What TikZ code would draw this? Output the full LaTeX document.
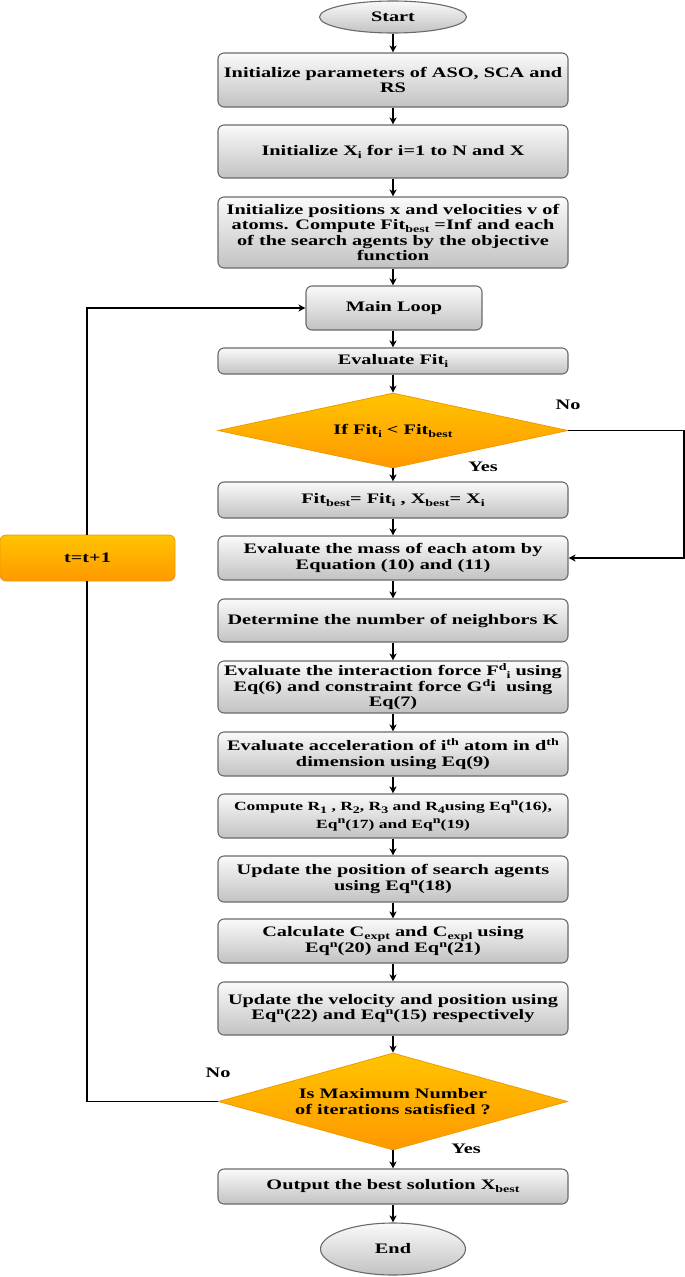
\documentclass[tikz,border=0pt]{standalone}
\usepackage{fontspec}
\setmainfont{Liberation Serif}[FakeStretch=1.4]
\usetikzlibrary{shapes.geometric,arrows.meta}
\definecolor{gtop}{HTML}{FAFAFA}
\definecolor{gbot}{HTML}{C2C2C2}
\definecolor{gline}{HTML}{6A6A6A}
\definecolor{otop}{HTML}{FFC400}
\definecolor{obot}{HTML}{FF9800}
\definecolor{oline}{HTML}{EE9A00}
\newcommand\subtx[1]{\raisebox{-3pt}{\fontsize{10}{10}\selectfont #1}}
\newcommand\suptx[1]{\raisebox{5pt}{\fontsize{10}{10}\selectfont #1}}
\tikzset{
  basefont/.style={font=\fontsize{14.5}{15.5}\selectfont\bfseries},
  graybox/.style={basefont, draw=gline, line width=1.1pt, rounded corners=6pt,
    top color=gtop, bottom color=gbot, align=center, inner sep=0pt,
    minimum width=350pt},
  term/.style={basefont, ellipse, draw=gline, line width=1.1pt,
    top color=gtop, bottom color=gbot, inner sep=0pt},
  decision/.style={basefont, diamond, draw=oline, line width=0.8pt,
    top color=otop, bottom color=obot, align=center, inner sep=0pt},
  orangebox/.style={basefont, draw=oline, line width=0.8pt, rounded corners=6pt,
    top color=otop, bottom color=obot, align=center, inner sep=0pt},
  lbl/.style={basefont},
  flow/.style={line width=1.3pt, black},
  arr/.style={flow, -{Stealth[length=7pt,width=7pt,inset=2pt]}}
}
\begin{document}
\begin{tikzpicture}[x=1pt,y=-1pt]
\useasboundingbox (0,0) rectangle (685,1277);

\node[term, minimum width=147pt, minimum height=32pt] (start) at (393,17) {Start};
\node[graybox, minimum height=54pt] (b1) at (393,80) {Initialize parameters of ASO, SCA and\\RS};
\node[graybox, minimum height=53pt] (b2) at (393,151.5) {Initialize X\subtx{i} for i=1 to N and X};
\node[graybox, minimum height=71pt] (b3) at (393,232.5) {Initialize positions x and velocities v of\\atoms. Compute Fit\subtx{best} =Inf and each\\of the search agents by the objective\\function};
\node[graybox, minimum width=176pt, minimum height=44pt] (loop) at (394,308) {Main Loop};
\node[graybox, minimum height=26pt] (evalfit) at (393,361) {Evaluate Fit\subtx{i}};
\node[decision, aspect=4.67, minimum width=350pt, minimum height=75pt] (d1) at (393,430.5) {If Fit\subtx{i} < Fit\subtx{best}};
\node[graybox, minimum height=36pt] (fitbest) at (393,500) {Fit\subtx{best}= Fit\subtx{i} , X\subtx{best}= X\subtx{i}};
\node[graybox, minimum height=44pt] (mass) at (393,558) {Evaluate the mass of each atom by\\Equation (10) and (11)};
\node[graybox, minimum height=43pt] (det) at (393,620.5) {Determine the number of neighbors K};
\node[graybox, minimum height=52pt] (force) at (393,687) {Evaluate the interaction force F\suptx{d}\subtx{i} using\\Eq(6) and constraint force G\suptx{d}i\ \ using\\Eq(7)};
\node[graybox, minimum height=44pt] (accel) at (393,754) {Evaluate acceleration of i\suptx{th} atom in d\suptx{th}\\dimension using Eq(9)};
\node[graybox, minimum height=44pt, font=\fontsize{12.5}{18}\selectfont\bfseries] (compute) at (393,816) {Compute R\subtx{1} , R\subtx{2}, R\subtx{3} and R\subtx{4}using Eq\suptx{n}(16),\\Eq\suptx{n}(17) and Eq\suptx{n}(19)};
\node[graybox, minimum height=46pt] (updpos) at (393,879) {Update the position of search agents\\using Eq\suptx{n}(18)};
\node[graybox, minimum height=44pt] (calc) at (393,941) {Calculate C\subtx{expt} and C\subtx{expl} using\\Eq\suptx{n}(20) and Eq\suptx{n}(21)};
\node[graybox, minimum height=53pt] (updvel) at (393,1008.5) {Update the velocity and position using\\Eq\suptx{n}(22) and Eq\suptx{n}(15) respectively};
\node[decision, aspect=3.6, minimum width=349pt, minimum height=97pt] (d2) at (393,1101.5) {Is Maximum Number\\of iterations satisfied ?};
\node[graybox, minimum height=35pt] (out) at (393,1186.5) {Output the best solution X\subtx{best}};
\node[term, minimum width=145pt, minimum height=52pt] (end) at (393,1249) {End};
\node[orangebox, minimum width=175pt, minimum height=46pt] (tt) at (87.5,558) {t=t+1};

\node[lbl] (no1) at (568,405) {No};
\node[lbl] (yes1) at (483,467) {Yes};
\node[lbl] (no2) at (218,1073) {No};
\node[lbl] (yes2) at (466,1149) {Yes};

\coordinate (rt1) at (684,430.5);
\coordinate (rt2) at (684,558);
\coordinate (lft) at (87,1101.5);

\draw[arr] (start) -- (b1);
\draw[arr] (b1) -- (b2);
\draw[arr] (b2) -- (b3);
\draw[arr] (b3) -- (b3 |- loop.north);
\draw[arr] (loop.south -| evalfit) -- (evalfit);
\draw[arr] (evalfit) -- (d1);
\draw[arr] (d1) -- (fitbest);
\draw[arr] (fitbest) -- (mass);
\draw[arr] (d1.east) -- (rt1) -- (rt2) -- (mass.east);
\draw[arr] (mass) -- (det);
\draw[arr] (det) -- (force);
\draw[arr] (force) -- (accel);
\draw[arr] (accel) -- (compute);
\draw[arr] (compute) -- (updpos);
\draw[arr] (updpos) -- (calc);
\draw[arr] (calc) -- (updvel);
\draw[arr] (updvel) -- (d2);
\draw[arr] (d2) -- (out);
\draw[arr] (out) -- (end);
\draw[flow] (d2.west) -- (lft) -- (lft |- tt.south);
\draw[arr] (tt.north -| lft) |- (loop.west);
\end{tikzpicture}
\end{document}
